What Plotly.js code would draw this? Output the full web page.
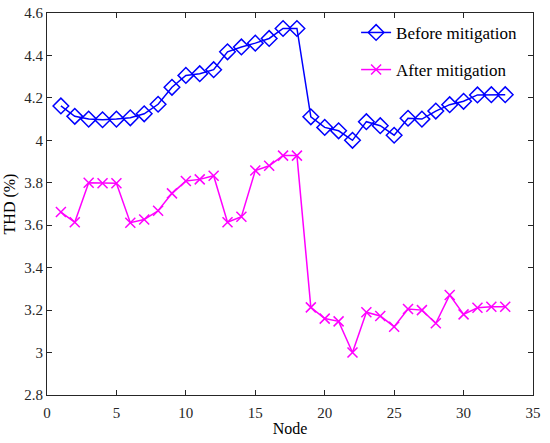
<!DOCTYPE html>
<html>
<head>
<meta charset="utf-8">
<script src="https://cdn.plot.ly/plotly-3.0.1.min.js"></script>
<style>html,body{margin:0;padding:0;background:#fff;}#chart{width:550px;height:443px;}</style>
</head>
<body>
<div id="chart"></div>
<script>
const nodes = [1,2,3,4,5,6,7,8,9,10,11,12,13,14,15,16,17,18,19,20,21,22,23,24,25,26,27,28,29,30,31,32,33];
const beforeMitigation = [4.162,4.113,4.100,4.097,4.100,4.106,4.125,4.170,4.250,4.306,4.314,4.333,4.417,4.440,4.458,4.480,4.527,4.527,4.111,4.061,4.045,4.000,4.088,4.069,4.024,4.104,4.100,4.138,4.168,4.184,4.214,4.215,4.215];
const afterMitigation = [3.662,3.614,3.800,3.798,3.798,3.612,3.627,3.668,3.750,3.808,3.816,3.833,3.614,3.640,3.858,3.880,3.928,3.928,3.213,3.160,3.147,3.000,3.190,3.172,3.122,3.205,3.200,3.138,3.271,3.180,3.211,3.216,3.216];
const seriesNames = ['Before mitigation','After mitigation'];

const font = 'Times New Roman, Liberation Serif, DejaVu Serif, serif';
const traces = [
  {x: nodes, y: beforeMitigation, name: seriesNames[0], mode: 'lines+markers', legendgroup: 'a',
   line: {color: '#0000ff', width: 1.5},
   marker: {symbol: 'diamond-open', size: 12, color: '#0000ff', line: {width: 1.5}}},
  {x: nodes, y: afterMitigation, name: seriesNames[1], mode: 'lines+markers', legendgroup: 'b',
   line: {color: '#ff00ff', width: 1.5},
   marker: {symbol: 'x-thin-open', size: 10, color: '#ff00ff', line: {width: 1.5, color: '#ff00ff'}}}
];
const axisCommon = {
  showgrid: false, zeroline: false, showline: true, linecolor: '#262626', linewidth: 1,
  mirror: 'ticks', ticks: 'inside', ticklen: 5, tickcolor: '#262626',
  tickfont: {family: font, size: 15, color: '#262626'}
};
const layout = {
  width: 550, height: 443,
  font: {family: font},
  margin: {l: 47, r: 17, t: 13, b: 48},
  paper_bgcolor: '#fff', plot_bgcolor: '#fff',
  showlegend: true,
  legend: {x: 0.636, y: 0.995, xanchor: 'left', yanchor: 'top', bgcolor: 'rgba(255,255,255,0)',
    font: {family: font, size: 17, color: '#000'}, tracegroupgap: 12},
  xaxis: Object.assign({}, axisCommon, {range: [0, 35], dtick: 5, tick0: 0, ticklabelstandoff: 4,
    title: {text: 'Node', font: {family: font, size: 16, color: '#000'}, standoff: 2}}),
  yaxis: Object.assign({}, axisCommon, {range: [2.8, 4.6], dtick: 0.2, tick0: 2.8,
    title: {text: 'THD (%)', font: {family: font, size: 16, color: '#000'}, standoff: 4}})
};
Plotly.newPlot('chart', traces, layout, {displayModeBar: false, staticPlot: true});
</script>
</body>
</html>
